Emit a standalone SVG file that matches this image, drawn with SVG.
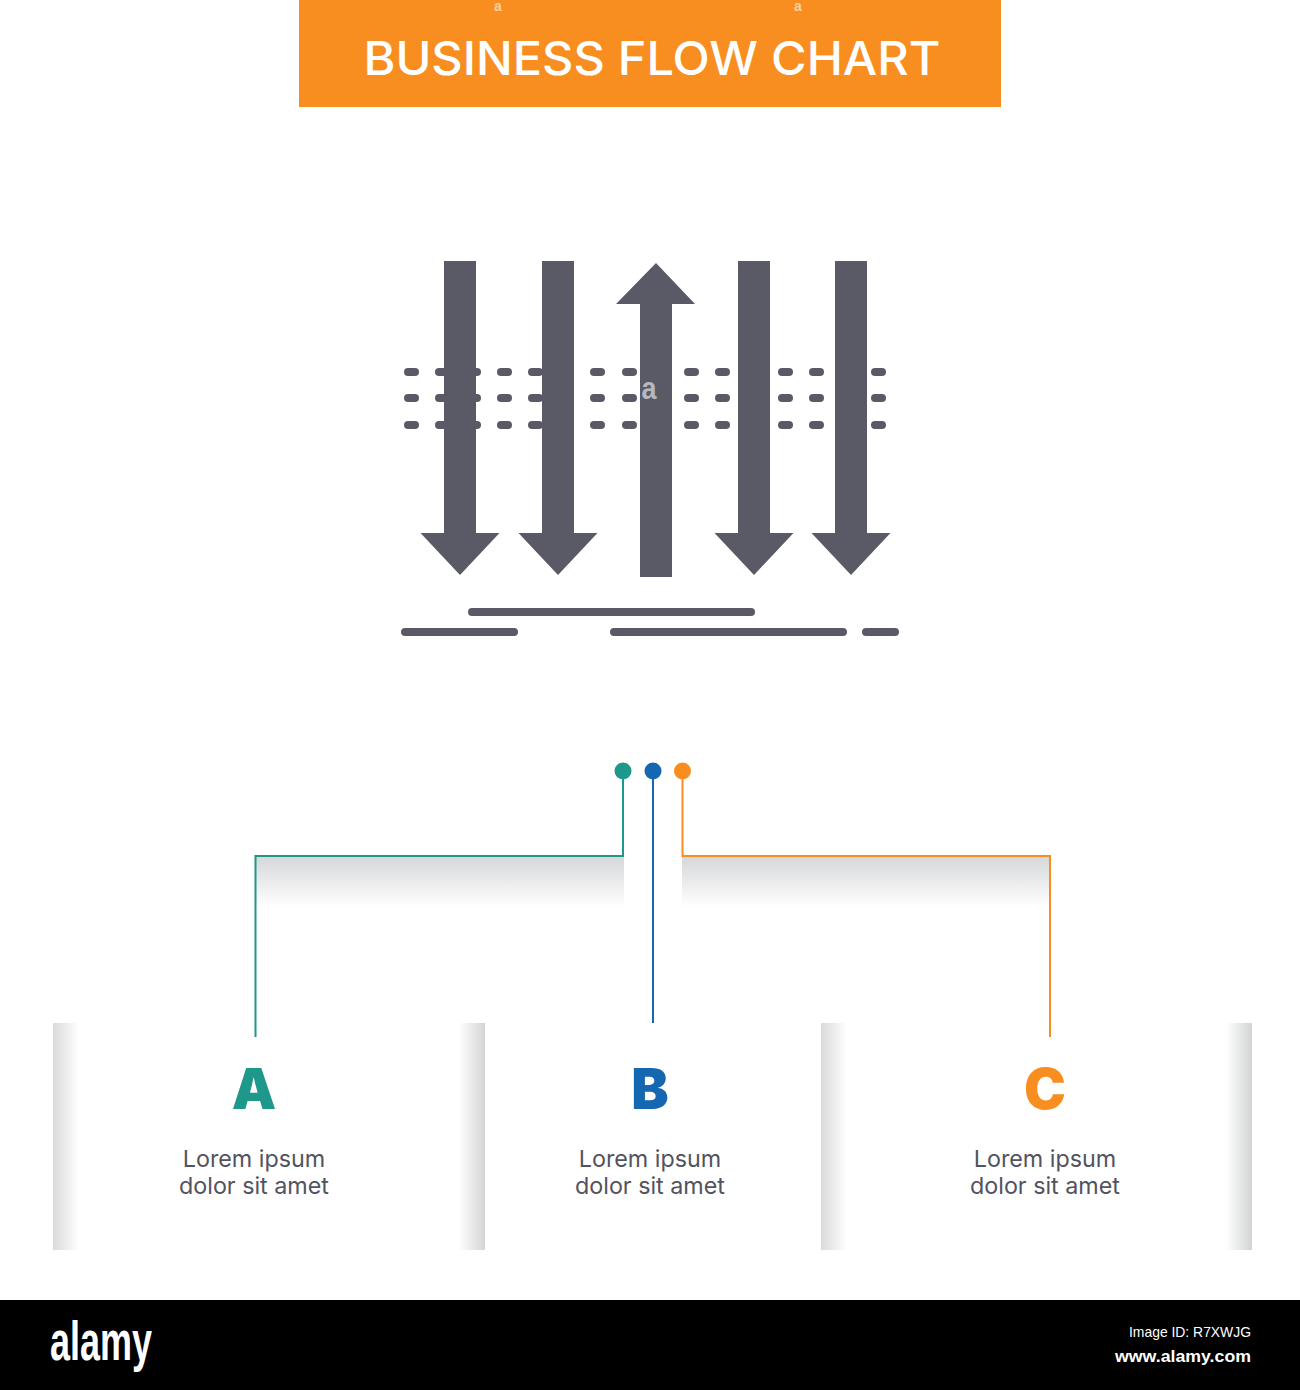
<svg xmlns="http://www.w3.org/2000/svg" width="1300" height="1390" viewBox="0 0 1300 1390">
<style>
.ink{fill:#5a5a67}
.body{font-family:"Inter","Noto Sans",sans-serif;font-size:23.300px;fill:#53535f;text-anchor:middle}
.letter{font-family:"Inter","Noto Sans",sans-serif;font-size:56px;font-weight:900;text-anchor:middle}
.wire{fill:none;stroke-width:2}
.foot{font-family:"Liberation Sans",sans-serif;fill:#fff}
.mark{font-family:"Liberation Sans",sans-serif;font-weight:700}
</style>
<defs>
<linearGradient id="sv" x1="0" y1="0" x2="0" y2="1"><stop offset="0" stop-color="#d6d7d9"/><stop offset="1" stop-color="#fff"/></linearGradient>
<linearGradient id="sl" x1="0" y1="0" x2="1" y2="0"><stop offset="0" stop-color="#d9dadb"/><stop offset="1" stop-color="#fff"/></linearGradient>
<linearGradient id="sr" x1="1" y1="0" x2="0" y2="0"><stop offset="0" stop-color="#d3d4d5"/><stop offset="1" stop-color="#fff"/></linearGradient>
<g id="dash"><rect x="0" y="-4" width="15" height="8" rx="4"/></g>
<path id="down" d="M-16 261H16V533H39.500L0 575L-39.500 533H-16Z"/>
</defs>
<rect width="1300" height="1390" fill="#fff"/>
<g id="banner">
<rect x="299" y="0" width="702" height="107" fill="#f98e20"/>
<text x="652" y="75" font-family="Inter,'Noto Sans',sans-serif" font-size="47" font-weight="500" fill="#fff" text-anchor="middle" textLength="577" lengthAdjust="spacingAndGlyphs">BUSINESS FLOW CHART</text>
<text class="mark" x="498" y="11" font-size="14" fill="#fcd0a0" text-anchor="middle">a</text>
<text class="mark" x="798" y="11" font-size="14" fill="#fcd0a0" text-anchor="middle">a</text>
</g>
<g id="icon" class="ink">
<use href="#dash" x="404" y="372"/><use href="#dash" x="435" y="372"/><use href="#dash" x="466" y="372"/><use href="#dash" x="497" y="372"/><use href="#dash" x="528" y="372"/><use href="#dash" x="590" y="372"/><use href="#dash" x="622" y="372"/><use href="#dash" x="684" y="372"/><use href="#dash" x="715" y="372"/><use href="#dash" x="778" y="372"/><use href="#dash" x="809" y="372"/><use href="#dash" x="871" y="372"/>
<use href="#dash" x="404" y="398"/><use href="#dash" x="435" y="398"/><use href="#dash" x="466" y="398"/><use href="#dash" x="497" y="398"/><use href="#dash" x="528" y="398"/><use href="#dash" x="590" y="398"/><use href="#dash" x="622" y="398"/><use href="#dash" x="684" y="398"/><use href="#dash" x="715" y="398"/><use href="#dash" x="778" y="398"/><use href="#dash" x="809" y="398"/><use href="#dash" x="871" y="398"/>
<use href="#dash" x="404" y="425"/><use href="#dash" x="435" y="425"/><use href="#dash" x="466" y="425"/><use href="#dash" x="497" y="425"/><use href="#dash" x="528" y="425"/><use href="#dash" x="590" y="425"/><use href="#dash" x="622" y="425"/><use href="#dash" x="684" y="425"/><use href="#dash" x="715" y="425"/><use href="#dash" x="778" y="425"/><use href="#dash" x="809" y="425"/><use href="#dash" x="871" y="425"/>
<use href="#down" x="460"/><use href="#down" x="558"/><use href="#down" x="754"/><use href="#down" x="851"/>
<path d="M640 577V304H616L656 263L695 304H672V577Z"/>
<rect x="468" y="608" width="287" height="8" rx="4"/>
<rect x="401" y="628" width="117" height="8" rx="4"/>
<rect x="610" y="628" width="237" height="8" rx="4"/>
<rect x="862" y="628" width="37" height="8" rx="4"/>
<text class="mark" x="649" y="399" font-size="32" fill="#b7b7bf" text-anchor="middle" textLength="15" lengthAdjust="spacingAndGlyphs">a</text>
</g>
<g id="shadows">
<rect x="256" y="857" width="368" height="50" fill="url(#sv)"/>
<rect x="682" y="857" width="368" height="50" fill="url(#sv)"/>
</g>
<g id="connectors">
<path class="wire" stroke="#1f988c" d="M623 771V856H255.500V1037"/>
<path class="wire" stroke="#1467b0" d="M653 771V1023"/>
<path class="wire" stroke="#f98e20" d="M682.500 771V856H1050V1037"/>
</g>
<g id="dots">
<circle cx="623" cy="771" r="8.500" fill="#1f988c"/>
<circle cx="653" cy="771" r="8.500" fill="#1467b0"/>
<circle cx="682.500" cy="771" r="8.500" fill="#f98e20"/>
</g>
<g id="panel-a">
<rect x="53" y="1023" width="26" height="227" fill="url(#sl)"/>
<rect x="459" y="1023" width="26" height="227" fill="url(#sr)"/>
<text class="letter" x="254" y="1109" fill="#1f988c">A</text>
<text class="body" x="254" y="1167">Lorem ipsum</text>
<text class="body" x="254" y="1194">dolor sit amet</text>
</g>
<g id="panel-b">
<text class="letter" x="650" y="1109" fill="#1467b0">B</text>
<text class="body" x="650" y="1167">Lorem ipsum</text>
<text class="body" x="650" y="1194">dolor sit amet</text>
</g>
<g id="panel-c">
<rect x="821" y="1023" width="26" height="227" fill="url(#sl)"/>
<rect x="1226" y="1023" width="26" height="227" fill="url(#sr)"/>
<text class="letter" x="1045" y="1109" fill="#f98e20">C</text>
<text class="body" x="1045" y="1167">Lorem ipsum</text>
<text class="body" x="1045" y="1194">dolor sit amet</text>
</g>
<g id="footer">
<rect x="0" y="1300" width="1300" height="90" fill="#000"/>
<text class="foot" x="50" y="1360" font-size="56" font-weight="700" textLength="102" lengthAdjust="spacingAndGlyphs">alamy</text>
<text class="foot" x="1251" y="1337" font-size="15" text-anchor="end" textLength="122" lengthAdjust="spacingAndGlyphs">Image ID: R7XWJG</text>
<text class="foot" x="1251" y="1362" font-size="17" font-weight="700" text-anchor="end" textLength="136" lengthAdjust="spacingAndGlyphs">www.alamy.com</text>
</g>
</svg>
